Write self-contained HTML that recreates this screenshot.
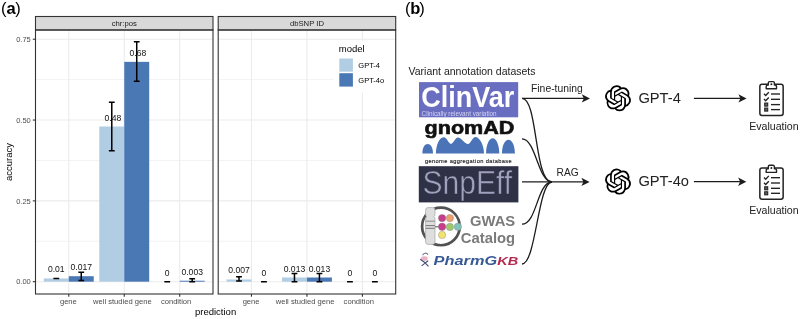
<!DOCTYPE html>
<html><head><meta charset="utf-8"><style>
html,body{margin:0;padding:0;background:#fff;overflow:hidden;}
svg{display:block;filter:blur(0.4px);font-family:"Liberation Sans", sans-serif;}
</style></head><body>
<svg width="800" height="319" viewBox="0 0 800 319">
<rect width="800" height="319" fill="#fff"/>
<rect x="35.5" y="30.0" width="177.5" height="264.0" fill="#fff"/>
<line x1="35.5" x2="213.0" y1="241.29" y2="241.29" stroke="#ebebeb" stroke-width="0.6"/>
<line x1="35.5" x2="213.0" y1="160.46" y2="160.46" stroke="#ebebeb" stroke-width="0.6"/>
<line x1="35.5" x2="213.0" y1="79.64" y2="79.64" stroke="#ebebeb" stroke-width="0.6"/>
<line x1="35.5" x2="213.0" y1="281.70" y2="281.70" stroke="#ebebeb" stroke-width="1.1"/>
<line x1="35.5" x2="213.0" y1="200.88" y2="200.88" stroke="#ebebeb" stroke-width="1.1"/>
<line x1="35.5" x2="213.0" y1="120.05" y2="120.05" stroke="#ebebeb" stroke-width="1.1"/>
<line x1="35.5" x2="213.0" y1="39.22" y2="39.22" stroke="#ebebeb" stroke-width="1.1"/>
<line x1="68.78" x2="68.78" y1="30.0" y2="294.0" stroke="#ebebeb" stroke-width="1.1"/>
<line x1="124.25" x2="124.25" y1="30.0" y2="294.0" stroke="#ebebeb" stroke-width="1.1"/>
<line x1="179.72" x2="179.72" y1="30.0" y2="294.0" stroke="#ebebeb" stroke-width="1.1"/>
<rect x="218.2" y="30.0" width="177.5" height="264.0" fill="#fff"/>
<line x1="218.2" x2="395.7" y1="241.29" y2="241.29" stroke="#ebebeb" stroke-width="0.6"/>
<line x1="218.2" x2="395.7" y1="160.46" y2="160.46" stroke="#ebebeb" stroke-width="0.6"/>
<line x1="218.2" x2="395.7" y1="79.64" y2="79.64" stroke="#ebebeb" stroke-width="0.6"/>
<line x1="218.2" x2="395.7" y1="281.70" y2="281.70" stroke="#ebebeb" stroke-width="1.1"/>
<line x1="218.2" x2="395.7" y1="200.88" y2="200.88" stroke="#ebebeb" stroke-width="1.1"/>
<line x1="218.2" x2="395.7" y1="120.05" y2="120.05" stroke="#ebebeb" stroke-width="1.1"/>
<line x1="218.2" x2="395.7" y1="39.22" y2="39.22" stroke="#ebebeb" stroke-width="1.1"/>
<line x1="251.48" x2="251.48" y1="30.0" y2="294.0" stroke="#ebebeb" stroke-width="1.1"/>
<line x1="306.95" x2="306.95" y1="30.0" y2="294.0" stroke="#ebebeb" stroke-width="1.1"/>
<line x1="362.42" x2="362.42" y1="30.0" y2="294.0" stroke="#ebebeb" stroke-width="1.1"/>
<rect x="334" y="41" width="61" height="51.5" fill="#fff"/>
<rect x="43.82" y="278.47" width="24.96" height="3.23" fill="#b1cde3"/>
<rect x="68.78" y="276.20" width="24.96" height="5.50" fill="#4a78b5"/>
<rect x="99.29" y="126.52" width="24.96" height="155.18" fill="#b1cde3"/>
<rect x="124.25" y="61.86" width="24.96" height="219.84" fill="#4a78b5"/>
<rect x="179.72" y="280.73" width="24.96" height="0.97" fill="#4a78b5"/>
<rect x="226.52" y="279.44" width="24.96" height="2.26" fill="#b1cde3"/>
<rect x="281.99" y="277.50" width="24.96" height="4.20" fill="#b1cde3"/>
<rect x="306.95" y="277.50" width="24.96" height="4.20" fill="#4a78b5"/>
<path d="M53.40,278.47H59.20M56.30,278.47V278.47M53.40,278.47H59.20" stroke="#000" stroke-width="1.5" fill="none"/>
<path d="M78.36,272.32H84.16M81.26,272.32V280.57M78.36,280.57H84.16" stroke="#000" stroke-width="1.5" fill="none"/>
<path d="M108.87,102.27H114.67M111.77,102.27V150.76M108.87,150.76H114.67" stroke="#000" stroke-width="1.5" fill="none"/>
<path d="M133.83,41.81H139.63M136.73,41.81V81.25M133.83,81.25H139.63" stroke="#000" stroke-width="1.5" fill="none"/>
<path d="M164.34,281.70H170.14M167.24,281.70V281.70M164.34,281.70H170.14" stroke="#000" stroke-width="1.5" fill="none"/>
<path d="M189.30,278.79H195.10M192.20,278.79V281.70M189.30,281.70H195.10" stroke="#000" stroke-width="1.5" fill="none"/>
<path d="M236.10,276.85H241.90M239.00,276.85V281.05M236.10,281.05H241.90" stroke="#000" stroke-width="1.5" fill="none"/>
<path d="M261.06,281.70H266.86M263.96,281.70V281.70M261.06,281.70H266.86" stroke="#000" stroke-width="1.5" fill="none"/>
<path d="M291.57,273.62H297.37M294.47,273.62V281.70M291.57,281.70H297.37" stroke="#000" stroke-width="1.5" fill="none"/>
<path d="M316.53,273.62H322.33M319.43,273.62V281.70M316.53,281.70H322.33" stroke="#000" stroke-width="1.5" fill="none"/>
<path d="M347.04,281.70H352.84M349.94,281.70V281.70M347.04,281.70H352.84" stroke="#000" stroke-width="1.5" fill="none"/>
<path d="M372.00,281.70H377.80M374.90,281.70V281.70M372.00,281.70H377.80" stroke="#000" stroke-width="1.5" fill="none"/>
<text x="56.30" y="272.47" font-size="8.6" text-anchor="middle" fill="#111">0.01</text>
<text x="81.26" y="270.20" font-size="8.6" text-anchor="middle" fill="#111">0.017</text>
<text x="112.97" y="120.52" font-size="8.6" text-anchor="middle" fill="#111">0.48</text>
<text x="137.93" y="55.86" font-size="8.6" text-anchor="middle" fill="#111">0.68</text>
<text x="167.24" y="275.70" font-size="8.6" text-anchor="middle" fill="#111">0</text>
<text x="192.20" y="274.73" font-size="8.6" text-anchor="middle" fill="#111">0.003</text>
<text x="239.00" y="273.44" font-size="8.6" text-anchor="middle" fill="#111">0.007</text>
<text x="263.96" y="275.70" font-size="8.6" text-anchor="middle" fill="#111">0</text>
<text x="294.47" y="271.50" font-size="8.6" text-anchor="middle" fill="#111">0.013</text>
<text x="319.43" y="271.50" font-size="8.6" text-anchor="middle" fill="#111">0.013</text>
<text x="349.94" y="275.70" font-size="8.6" text-anchor="middle" fill="#111">0</text>
<text x="374.90" y="275.70" font-size="8.6" text-anchor="middle" fill="#111">0</text>
<rect x="35.5" y="16.5" width="177.5" height="13.5" fill="#d9d9d9" stroke="#333333" stroke-width="1.1"/>
<rect x="35.5" y="30.0" width="177.5" height="264.0" fill="none" stroke="#333333" stroke-width="1.1"/>
<text x="124.25" y="25.9" font-size="7.7" text-anchor="middle" fill="#1a1a1a">chr:pos</text>
<line x1="68.78" x2="68.78" y1="294.0" y2="296.7" stroke="#333333" stroke-width="1.1"/>
<text x="68.38" y="304.2" font-size="7.6" text-anchor="middle" fill="#4d4d4d">gene</text>
<line x1="124.25" x2="124.25" y1="294.0" y2="296.7" stroke="#333333" stroke-width="1.1"/>
<text x="122.35" y="304.2" font-size="7.6" text-anchor="middle" fill="#4d4d4d">well studied gene</text>
<line x1="179.72" x2="179.72" y1="294.0" y2="296.7" stroke="#333333" stroke-width="1.1"/>
<text x="176.12" y="304.2" font-size="7.6" text-anchor="middle" fill="#4d4d4d">condition</text>
<rect x="218.2" y="16.5" width="177.5" height="13.5" fill="#d9d9d9" stroke="#333333" stroke-width="1.1"/>
<rect x="218.2" y="30.0" width="177.5" height="264.0" fill="none" stroke="#333333" stroke-width="1.1"/>
<text x="306.95" y="25.9" font-size="7.7" text-anchor="middle" fill="#1a1a1a">dbSNP ID</text>
<line x1="251.48" x2="251.48" y1="294.0" y2="296.7" stroke="#333333" stroke-width="1.1"/>
<text x="251.08" y="304.2" font-size="7.6" text-anchor="middle" fill="#4d4d4d">gene</text>
<line x1="306.95" x2="306.95" y1="294.0" y2="296.7" stroke="#333333" stroke-width="1.1"/>
<text x="305.05" y="304.2" font-size="7.6" text-anchor="middle" fill="#4d4d4d">well studied gene</text>
<line x1="362.42" x2="362.42" y1="294.0" y2="296.7" stroke="#333333" stroke-width="1.1"/>
<text x="358.82" y="304.2" font-size="7.6" text-anchor="middle" fill="#4d4d4d">condition</text>
<line x1="32.8" x2="35.5" y1="281.70" y2="281.70" stroke="#333333" stroke-width="1.1"/>
<text x="30.8" y="284.40" font-size="7.5" text-anchor="end" fill="#4d4d4d">0.00</text>
<line x1="32.8" x2="35.5" y1="200.88" y2="200.88" stroke="#333333" stroke-width="1.1"/>
<text x="30.8" y="203.57" font-size="7.5" text-anchor="end" fill="#4d4d4d">0.25</text>
<line x1="32.8" x2="35.5" y1="120.05" y2="120.05" stroke="#333333" stroke-width="1.1"/>
<text x="30.8" y="122.75" font-size="7.5" text-anchor="end" fill="#4d4d4d">0.50</text>
<line x1="32.8" x2="35.5" y1="39.22" y2="39.22" stroke="#333333" stroke-width="1.1"/>
<text x="30.8" y="41.92" font-size="7.5" text-anchor="end" fill="#4d4d4d">0.75</text>
<text transform="translate(11.6,162.1) rotate(-90)" font-size="9.5" text-anchor="middle" fill="#000">accuracy</text>
<text x="215.6" y="314.5" font-size="9.5" text-anchor="middle" fill="#000">prediction</text>
<text x="338.8" y="51.9" font-size="9.5" fill="#000">model</text>
<rect x="339.3" y="58.5" width="13.6" height="13.2" fill="#b1cde3"/>
<rect x="339.3" y="73.2" width="13.6" height="13.4" fill="#4a78b5"/>
<text x="358.3" y="68.4" font-size="7.5" fill="#000">GPT-4</text>
<text x="358.3" y="83.0" font-size="7.5" fill="#000">GPT-4o</text>
<text y="13.7" font-size="16.5" fill="#000"><tspan x="1.0">(</tspan><tspan x="6.4" font-weight="bold">a</tspan><tspan x="15.2">)</tspan></text>
<text y="13.7" font-size="16.5" fill="#000"><tspan x="404.9">(</tspan><tspan x="410.3" font-weight="bold">b</tspan><tspan x="419.2">)</tspan></text>
<text x="408.5" y="74.9" font-size="10.4" fill="#222" textLength="127" lengthAdjust="spacingAndGlyphs">Variant annotation datasets</text>
<rect x="419" y="82.1" width="99.2" height="35.2" fill="#6a6ec0"/>
<text x="421.2" y="107" font-size="29" font-weight="bold" fill="#fff" textLength="93" lengthAdjust="spacingAndGlyphs">ClinVar</text>
<text x="421.6" y="115.5" font-size="6.3" fill="#d4d4f2" textLength="75" lengthAdjust="spacingAndGlyphs">Clinically relevant variation</text>
<text x="424.6" y="134.0" font-size="18" font-weight="bold" fill="#111" stroke="#111" stroke-width="0.6" textLength="89.8" lengthAdjust="spacingAndGlyphs">gnomAD</text>
<path d="M422.4,153.5 C422.4,147 425,143.9 427.7,143.9 C430.4,143.9 433,147 433,153.5 Z M435.9,153.5 C436,146 439,137.3 443.6,137.3 C447,137.3 448.5,143.9 451,143.9 C453.5,143.9 455,137.6 458,137.6 C461,137.6 465,144 468,144 C470.5,144 472.5,137 475.5,137 C479.5,137 484,145 484,153.5 Z M486.1,153.5 C486.1,145 489,138.3 492.7,138.3 C496.4,138.3 499.3,145 499.3,153.5 Z M502,153.5 C502,145.5 505,139.8 508.5,139.8 C512,139.8 514.9,145.5 514.9,153.5 Z" fill="#4b73b8"/>
<text x="425" y="162.9" font-size="5.7" fill="#222" stroke="#222" stroke-width="0.15" textLength="86.6" lengthAdjust="spacing">genome aggregation database</text>
<rect x="418.8" y="166.2" width="99.6" height="36.2" fill="#2f3146"/>
<text x="422.6" y="194.0" font-size="32.7" fill="#a0a2bd" stroke="#2f3146" stroke-width="0.5" textLength="89.6" lengthAdjust="spacingAndGlyphs">SnpEff</text>
<circle cx="440.9" cy="226.45" r="18.8" fill="#fff" stroke="#525252" stroke-width="2.7"/>
<path d="M428,207.6 H432.6 Q435,207.6 435,210 V214.5 Q435,216 433.6,216.6 Q435,217.2 435,218.7 V242 Q435,244.4 432.6,244.4 H428 Q425.6,244.4 425.6,242 V218.7 Q425.6,217.2 427,216.6 Q425.6,216 425.6,214.5 V210 Q425.6,207.6 428,207.6 Z" fill="#dedede" stroke="#a5a5a5" stroke-width="0.7"/>
<path d="M425.8,221.3 h9 M425.8,225.6 h9 M425.8,228.3 h9" stroke="#6a6a6a" stroke-width="0.9"/>
<path d="M425.8,221.3 h9" stroke="#b0b0b0" stroke-width="0.9"/>
<line x1="435" y1="226.8" x2="442" y2="226.8" stroke="#333" stroke-width="0.8"/>
<circle cx="442.1" cy="218.1" r="3.7" fill="#c83c8c" stroke="#777" stroke-width="0.35"/>
<circle cx="449.9" cy="218.1" r="3.7" fill="#e9a26b" stroke="#777" stroke-width="0.35"/>
<circle cx="442.1" cy="226.8" r="3.7" fill="#c83c8c" stroke="#777" stroke-width="0.35"/>
<circle cx="449.9" cy="226.9" r="3.7" fill="#9fc86e" stroke="#777" stroke-width="0.35"/>
<circle cx="457.9" cy="226.8" r="3.7" fill="#80c3bb" stroke="#777" stroke-width="0.35"/>
<circle cx="442.1" cy="234.9" r="3.7" fill="#f1e372" stroke="#777" stroke-width="0.35"/>
<text x="515.2" y="225.5" font-size="14.8" font-weight="bold" fill="#7a7a7a" text-anchor="end">GWAS</text>
<text x="515.1" y="242.8" font-size="14.8" font-weight="bold" fill="#7a7a7a" text-anchor="end">Catalog</text>
<text x="433.6" y="265.1" font-size="13" font-weight="bold" font-style="italic" fill="#375994" textLength="63.5" lengthAdjust="spacingAndGlyphs">PharmG</text>
<text x="497.2" y="265.1" font-size="10.6" font-weight="bold" font-style="italic" fill="#b22a4f" textLength="21" lengthAdjust="spacingAndGlyphs">KB</text>
<ellipse cx="424.3" cy="258.6" rx="3.4" ry="2.4" fill="#e9b3c6"/>
<path d="M422.6,255.2 C423.5,253 426.5,252.2 428,254.6" stroke="#6f7890" stroke-width="1.1" fill="none"/>
<path d="M420.2,259.3 C423,261 426,263.5 428.5,266.4 M428.2,260.8 C425.8,262.5 423.5,264.5 421.6,265.8" stroke="#3f4f72" stroke-width="1.1" fill="none"/>
<path d="M522,98.4 C538,98.4 534,182 552,182" stroke="#1c1c1c" stroke-width="1.3" fill="none"/>
<path d="M522,138.8 C536,138.8 538,182 552,182" stroke="#1c1c1c" stroke-width="1.3" fill="none"/>
<path d="M522,224.2 C537,224.2 537,182 552,182" stroke="#1c1c1c" stroke-width="1.3" fill="none"/>
<path d="M522,264 C536,264 538,182 552,182" stroke="#1c1c1c" stroke-width="1.3" fill="none"/>
<line x1="522" y1="98.4" x2="585" y2="98.4" stroke="#1c1c1c" stroke-width="1.3"/><path d="M590,98.4 L581.8,94.2 L583.8,98.4 L581.8,102.60000000000001 Z" fill="#1c1c1c"/>
<line x1="522" y1="181.9" x2="584.6" y2="181.9" stroke="#1c1c1c" stroke-width="1.3"/><path d="M589.6,181.9 L581.4,177.70000000000002 L583.4,181.9 L581.4,186.1 Z" fill="#1c1c1c"/>
<line x1="693.9" y1="98.4" x2="741.6" y2="98.4" stroke="#1c1c1c" stroke-width="1.3"/><path d="M746.6,98.4 L738.4,94.2 L740.4,98.4 L738.4,102.60000000000001 Z" fill="#1c1c1c"/>
<line x1="693.9" y1="181.7" x2="741.3" y2="181.7" stroke="#1c1c1c" stroke-width="1.3"/><path d="M746.3,181.7 L738.0999999999999,177.5 L740.0999999999999,181.7 L738.0999999999999,185.89999999999998 Z" fill="#1c1c1c"/>
<text x="531" y="92.2" font-size="10" fill="#222" textLength="51.8" lengthAdjust="spacingAndGlyphs">Fine-tuning</text>
<text x="556.6" y="176" font-size="10" fill="#222" textLength="22" lengthAdjust="spacingAndGlyphs">RAG</text>
<path transform="translate(605.00,85.30) scale(1.0833)" d="M22.2819 9.8211a5.9847 5.9847 0 0 0-.5157-4.9108 6.0462 6.0462 0 0 0-6.5098-2.9A6.0651 6.0651 0 0 0 4.9807 4.1818a5.9847 5.9847 0 0 0-3.9977 2.9 6.0462 6.0462 0 0 0 .7427 7.0966 5.98 5.98 0 0 0 .511 4.9107 6.051 6.051 0 0 0 6.5146 2.9001A5.9847 5.9847 0 0 0 13.2599 24a6.0557 6.0557 0 0 0 5.7718-4.2058 5.9894 5.9894 0 0 0 3.9977-2.9001 6.0557 6.0557 0 0 0-.7475-7.0729zm-9.022 12.6081a4.4755 4.4755 0 0 1-2.8764-1.0408l.1419-.0804 4.7783-2.7582a.7948.7948 0 0 0 .3927-.6813v-6.7369l2.02 1.1686a.071.071 0 0 1 .038.052v5.5826a4.504 4.504 0 0 1-4.4945 4.4944zm-9.6607-4.1254a4.4708 4.4708 0 0 1-.5346-3.0137l.142.0852 4.783 2.7582a.7712.7712 0 0 0 .7806 0l5.8428-3.3685v2.3324a.0804.0804 0 0 1-.0332.0615L9.74 19.9502a4.4992 4.4992 0 0 1-6.1408-1.6464zM2.3408 7.8956a4.485 4.485 0 0 1 2.3655-1.9728V11.6a.7664.7664 0 0 0 .3879.6765l5.8144 3.3543-2.0201 1.1685a.0757.0757 0 0 1-.071 0l-4.8303-2.7865A4.504 4.504 0 0 1 2.3408 7.872zm16.5963 3.8558L13.1038 8.364 15.1192 7.2a.0757.0757 0 0 1 .071 0l4.8303 2.7913a4.4944 4.4944 0 0 1-.6765 8.1042v-5.6772a.79.79 0 0 0-.407-.667zm2.0107-3.0231l-.142-.0852-4.7735-2.7818a.7759.7759 0 0 0-.7854 0L9.409 9.2297V6.8974a.0662.0662 0 0 1 .0284-.0615l4.8303-2.7866a4.4992 4.4992 0 0 1 6.6802 4.66zM8.3065 12.863l-2.02-1.1638a.0804.0804 0 0 1-.038-.0567V6.0742a4.4992 4.4992 0 0 1 7.3757-3.4537l-.142.0805L8.704 5.459a.7948.7948 0 0 0-.3927.6813zm1.0976-2.3654l2.602-1.4998 2.6069 1.4998v2.9994l-2.5974 1.4997-2.6067-1.4997Z" fill="#000"/>
<path transform="translate(605.00,168.60) scale(1.0833)" d="M22.2819 9.8211a5.9847 5.9847 0 0 0-.5157-4.9108 6.0462 6.0462 0 0 0-6.5098-2.9A6.0651 6.0651 0 0 0 4.9807 4.1818a5.9847 5.9847 0 0 0-3.9977 2.9 6.0462 6.0462 0 0 0 .7427 7.0966 5.98 5.98 0 0 0 .511 4.9107 6.051 6.051 0 0 0 6.5146 2.9001A5.9847 5.9847 0 0 0 13.2599 24a6.0557 6.0557 0 0 0 5.7718-4.2058 5.9894 5.9894 0 0 0 3.9977-2.9001 6.0557 6.0557 0 0 0-.7475-7.0729zm-9.022 12.6081a4.4755 4.4755 0 0 1-2.8764-1.0408l.1419-.0804 4.7783-2.7582a.7948.7948 0 0 0 .3927-.6813v-6.7369l2.02 1.1686a.071.071 0 0 1 .038.052v5.5826a4.504 4.504 0 0 1-4.4945 4.4944zm-9.6607-4.1254a4.4708 4.4708 0 0 1-.5346-3.0137l.142.0852 4.783 2.7582a.7712.7712 0 0 0 .7806 0l5.8428-3.3685v2.3324a.0804.0804 0 0 1-.0332.0615L9.74 19.9502a4.4992 4.4992 0 0 1-6.1408-1.6464zM2.3408 7.8956a4.485 4.485 0 0 1 2.3655-1.9728V11.6a.7664.7664 0 0 0 .3879.6765l5.8144 3.3543-2.0201 1.1685a.0757.0757 0 0 1-.071 0l-4.8303-2.7865A4.504 4.504 0 0 1 2.3408 7.872zm16.5963 3.8558L13.1038 8.364 15.1192 7.2a.0757.0757 0 0 1 .071 0l4.8303 2.7913a4.4944 4.4944 0 0 1-.6765 8.1042v-5.6772a.79.79 0 0 0-.407-.667zm2.0107-3.0231l-.142-.0852-4.7735-2.7818a.7759.7759 0 0 0-.7854 0L9.409 9.2297V6.8974a.0662.0662 0 0 1 .0284-.0615l4.8303-2.7866a4.4992 4.4992 0 0 1 6.6802 4.66zM8.3065 12.863l-2.02-1.1638a.0804.0804 0 0 1-.038-.0567V6.0742a4.4992 4.4992 0 0 1 7.3757-3.4537l-.142.0805L8.704 5.459a.7948.7948 0 0 0-.3927.6813zm1.0976-2.3654l2.602-1.4998 2.6069 1.4998v2.9994l-2.5974 1.4997-2.6067-1.4997Z" fill="#000"/>
<text x="638.4" y="102.5" font-size="14.7" fill="#222">GPT-4</text>
<text x="638.4" y="186.0" font-size="14.7" fill="#222">GPT-4o</text>
<rect x="759.85" y="84.35" width="23.3" height="31.2" rx="2.2" fill="#fff" stroke="#222" stroke-width="1.5"/><path d="M766.2,88.7 V86.39999999999999 a1.3,1.3 0 0 1 1.3,-1.3 H768.3 V83.0 a1.4,1.4 0 0 1 1.4,-1.4 h3.3 a1.4,1.4 0 0 1 1.4,1.4 V85.1 H775.2 a1.3,1.3 0 0 1 1.3,1.3 V88.7 z" fill="#fff" stroke="#222" stroke-width="1.4" stroke-linejoin="round"/><circle cx="771.35" cy="84.2" r="1.0" fill="#222"/><path d="M764.0,93.8 l1.7,1.7 l3.1,-3.3" stroke="#222" stroke-width="1.35" fill="none"/><line x1="771" x2="780" y1="94.0" y2="94.0" stroke="#222" stroke-width="1.35"/><path d="M764.0,99.1 l1.7,1.7 l3.1,-3.3" stroke="#222" stroke-width="1.35" fill="none"/><line x1="771" x2="780" y1="99.3" y2="99.3" stroke="#222" stroke-width="1.35"/><rect x="764.7" y="103.1" width="3.0" height="3.0" fill="#666" stroke="#222" stroke-width="1.1"/><line x1="771" x2="780" y1="104.6" y2="104.6" stroke="#222" stroke-width="1.35"/><rect x="764.7" y="108.1" width="3.0" height="3.0" fill="#666" stroke="#222" stroke-width="1.1"/><line x1="771" x2="780" y1="109.6" y2="109.6" stroke="#222" stroke-width="1.35"/>
<rect x="759.85" y="168.05" width="23.3" height="31.2" rx="2.2" fill="#fff" stroke="#222" stroke-width="1.5"/><path d="M766.2,172.4 V170.1 a1.3,1.3 0 0 1 1.3,-1.3 H768.3 V166.7 a1.4,1.4 0 0 1 1.4,-1.4 h3.3 a1.4,1.4 0 0 1 1.4,1.4 V168.8 H775.2 a1.3,1.3 0 0 1 1.3,1.3 V172.4 z" fill="#fff" stroke="#222" stroke-width="1.4" stroke-linejoin="round"/><circle cx="771.35" cy="167.9" r="1.0" fill="#222"/><path d="M764.0,177.5 l1.7,1.7 l3.1,-3.3" stroke="#222" stroke-width="1.35" fill="none"/><line x1="771" x2="780" y1="177.7" y2="177.7" stroke="#222" stroke-width="1.35"/><path d="M764.0,182.8 l1.7,1.7 l3.1,-3.3" stroke="#222" stroke-width="1.35" fill="none"/><line x1="771" x2="780" y1="183.0" y2="183.0" stroke="#222" stroke-width="1.35"/><rect x="764.7" y="186.8" width="3.0" height="3.0" fill="#666" stroke="#222" stroke-width="1.1"/><line x1="771" x2="780" y1="188.3" y2="188.3" stroke="#222" stroke-width="1.35"/><rect x="764.7" y="191.8" width="3.0" height="3.0" fill="#666" stroke="#222" stroke-width="1.1"/><line x1="771" x2="780" y1="193.3" y2="193.3" stroke="#222" stroke-width="1.35"/>
<text x="773.9" y="130.3" font-size="10.6" fill="#222" text-anchor="middle">Evaluation</text>
<text x="773.9" y="214.0" font-size="10.6" fill="#222" text-anchor="middle">Evaluation</text>
</svg>
</body></html>
